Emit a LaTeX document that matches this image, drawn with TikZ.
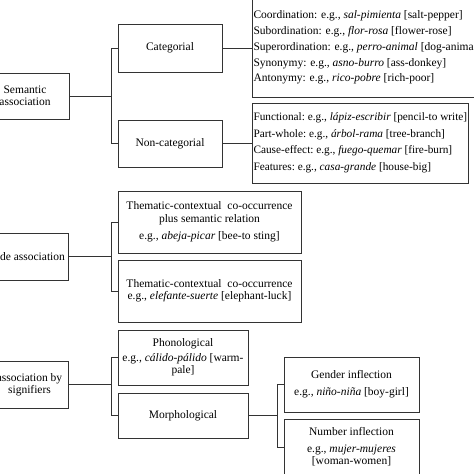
\documentclass[tikz,border=0pt]{standalone}
\usepackage{fontspec}
\setmainfont{Liberation Serif}
\usetikzlibrary{calc}

\newcommand{\boxfont}{\fontsize{11.5}{12.3}\selectfont}
\tikzset{
  box/.style={draw=black!80, line width=1pt, inner sep=1pt, align=center, font=\boxfont},
  listbox/.style={draw=black!80, line width=1pt, inner xsep=1pt, align=left, anchor=west},
  link/.style={draw=black!80, line width=1pt}
}

\begin{document}
\begin{tikzpicture}[x=1pt,y=-1pt]
\useasboundingbox (0,0) rectangle (474,474);
\clip (0,0) rectangle (474,474);

\node[box, minimum width=88, minimum height=46] (sem) at (25,96) {Semantic\\association};
\node[box, minimum width=104, minimum height=48] (cat) at (170,48) {Categorial};
\node[box, minimum width=104, minimum height=47] (noncat) at (170,143.5) {Non-categorial};
\node[listbox, minimum height=99, font=\fontsize{11.5}{15.75}\selectfont] (catlist) at (252,47.5)
  {Coordination: e.g., \textit{sal-pimienta} [salt-pepper]\\
   Subordination: e.g., \textit{flor-rosa} [flower-rose]\\
   Superordination: e.g., \textit{perro-animal} [dog-animal]\\
   Synonymy: e.g., \textit{asno-burro} [ass-donkey]\\
   Antonymy: e.g., \textit{rico-pobre} [rich-poor]};
\node[listbox, minimum height=80, font=\fontsize{11.3}{16.5}\selectfont\frenchspacing] (noncatlist) at (252,143)
  {Functional: e.g., \textit{lápiz-escribir} [pencil-to write]\\
   Part-whole: e.g., \textit{árbol-rama} [tree-branch]\\
   Cause-effect: e.g., \textit{fuego-quemar} [fire-burn]\\
   Features: e.g., \textit{casa-grande} [house-big]};

\node[box, minimum width=72, minimum height=47, anchor=east] (wide) at (69,256.5) {de association};
\node[box, minimum width=183, minimum height=62] (them1) at (209.5,222)
  {Thematic-contextual\ \ co-occurrence\\plus semantic relation\\[5pt]e.g., \textit{abeja-picar} [bee-to sting]};
\node[box, minimum width=183, minimum height=62] (them2) at (209.5,291)
  {Thematic-contextual\ \ co-occurrence\\e.g., \textit{elefante-suerte} [elephant-luck]};

\node[box, minimum width=78, minimum height=47, anchor=east] (sign) at (69,384.5) {association by\\signifiers};
\node[box, minimum width=130, minimum height=55] (phon) at (183,357.5)
  {Phonological\\[2pt]e.g., \textit{cálido-pálido} [warm-\\pale]};
\node[box, minimum width=130, minimum height=45] (morph) at (183,415.5) {Morphological};
\node[box, minimum width=135, minimum height=55] (gender) at (351.5,384.5)
  {Gender inflection\\[5pt]e.g., \textit{niño-niña} [boy-girl]};
\node[box, minimum width=135, minimum height=56] (number) at (351.5,447)
  {Number inflection\\[4pt]e.g., \textit{mujer-mujeres}\\{}[woman-women]};

\coordinate (f1) at ($(cat.west)+(-6,0)$);
\draw[link] (sem.east) -- (sem.east -| f1);
\draw[link] (cat.west) -- (f1) |- (noncat.west);
\draw[link] (cat.east) -- (cat.east -| catlist.west);
\draw[link] (noncat.east) -- (noncat.east -| noncatlist.west);

\coordinate (f2) at ($(them1.west)+(-6,0)$);
\draw[link] (wide.east) -- (wide.east -| f2);
\draw[link] (them1.west) -- (f2) |- (them2.west);

\coordinate (f3) at ($(phon.west)+(-6,0)$);
\draw[link] (sign.east) -- (sign.east -| f3);
\draw[link] (phon.west) -- (f3) |- (morph.west);

\coordinate (f4) at ($(gender.west)+(-6,0)$);
\draw[link] (morph.east) -- (morph.east -| f4);
\draw[link] (gender.west) -- (f4) |- (number.west);
\end{tikzpicture}
\end{document}
